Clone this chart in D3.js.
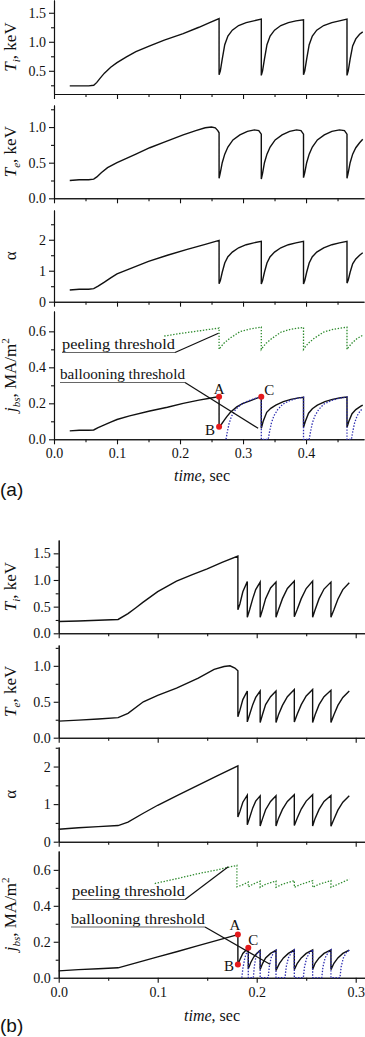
<!DOCTYPE html>
<html>
<head>
<meta charset="utf-8">
<script src="https://cdn.jsdelivr.net/npm/d3@7"></script>
<style>
  body { margin: 0; background: #fff; }
  svg text { font-family: "Liberation Serif", "Times New Roman", Times, "DejaVu Serif", serif; fill: #111; }
  svg text.tag { font-family: "Liberation Sans", Arial, sans-serif; }
</style>
</head>
<body>
<div id="chart"></div>
<script>
// ---------- data, (a) ----------
const tiA = [
  [0.025,0.24],[0.04,0.24],[0.055,0.24],[0.063,0.25],[0.068,0.3],[0.073,0.37],[0.08,0.46],[0.09,0.56],[0.1,0.64],[0.115,0.74],[0.13,0.83],[0.152,0.93],[0.175,1.03],[0.205,1.14],[0.23,1.25],[0.247,1.33],[0.262,1.4],
  [0.262,0.43],[0.264,0.5],[0.267,0.7],[0.271,0.95],[0.276,1.1],[0.283,1.2],[0.293,1.28],[0.305,1.33],[0.317,1.36],[0.329,1.39],
  [0.329,0.42],[0.331,0.5],[0.334,0.7],[0.338,0.95],[0.343,1.1],[0.35,1.2],[0.36,1.28],[0.372,1.33],[0.384,1.36],[0.396,1.38],
  [0.396,0.43],[0.398,0.5],[0.401,0.7],[0.405,0.95],[0.41,1.1],[0.417,1.2],[0.428,1.28],[0.441,1.33],[0.453,1.36],[0.465,1.39],
  [0.465,0.42],[0.467,0.5],[0.47,0.7],[0.474,0.93],[0.479,1.05],[0.485,1.13],[0.49,1.17]
];
const teA = [
  [0.025,0.25],[0.04,0.26],[0.055,0.26],[0.063,0.27],[0.068,0.3],[0.075,0.36],[0.085,0.43],[0.1,0.5],[0.115,0.56],[0.13,0.62],[0.152,0.71],[0.175,0.79],[0.205,0.89],[0.225,0.95],[0.24,0.99],[0.25,1.0],[0.256,0.99],[0.26,0.95],[0.262,0.92],
  [0.262,0.28],[0.264,0.36],[0.267,0.5],[0.271,0.62],[0.276,0.72],[0.284,0.82],[0.295,0.89],[0.307,0.94],[0.318,0.96],[0.325,0.95],[0.329,0.9],
  [0.329,0.27],[0.331,0.35],[0.334,0.5],[0.338,0.62],[0.343,0.72],[0.351,0.82],[0.362,0.89],[0.374,0.94],[0.385,0.96],[0.392,0.95],[0.396,0.9],
  [0.396,0.29],[0.398,0.36],[0.401,0.5],[0.405,0.62],[0.41,0.72],[0.418,0.82],[0.429,0.89],[0.441,0.94],[0.453,0.96],[0.461,0.95],[0.465,0.9],
  [0.465,0.28],[0.467,0.36],[0.47,0.5],[0.474,0.62],[0.479,0.71],[0.485,0.78],[0.49,0.83]
];
const alphaA = [
  [0.025,0.38],[0.04,0.4],[0.055,0.4],[0.063,0.42],[0.07,0.5],[0.08,0.63],[0.09,0.77],[0.1,0.9],[0.12,1.06],[0.15,1.3],[0.18,1.5],[0.21,1.68],[0.24,1.85],[0.262,1.98],
  [0.262,0.58],[0.264,0.68],[0.267,0.95],[0.271,1.25],[0.276,1.45],[0.283,1.6],[0.293,1.74],[0.305,1.84],[0.317,1.9],[0.329,1.95],
  [0.329,0.57],[0.331,0.68],[0.334,0.95],[0.338,1.25],[0.343,1.45],[0.35,1.6],[0.36,1.74],[0.372,1.84],[0.384,1.9],[0.396,1.95],
  [0.396,0.57],[0.398,0.68],[0.401,0.95],[0.405,1.25],[0.41,1.45],[0.417,1.6],[0.428,1.74],[0.441,1.84],[0.453,1.9],[0.465,1.95],
  [0.465,0.6],[0.467,0.7],[0.47,0.95],[0.474,1.22],[0.479,1.38],[0.485,1.5],[0.49,1.58]
];
const jbsA = [
  [0.025,0.047],[0.04,0.05],[0.055,0.05],[0.063,0.052],[0.07,0.065],[0.08,0.08],[0.09,0.095],[0.1,0.11],[0.12,0.13],[0.152,0.157],[0.18,0.178],[0.205,0.2],[0.23,0.218],[0.247,0.228],[0.262,0.237],
  [0.262,0.07],[0.266,0.085],[0.27,0.105],[0.274,0.125],[0.28,0.15],[0.29,0.18],[0.3,0.2],[0.311,0.214],[0.32,0.226],[0.329,0.237],
  [0.329,0.061],[0.332,0.1],[0.3376,0.15],[0.344,0.172],[0.352,0.19],[0.364,0.209],[0.376,0.222],[0.388,0.23],[0.396,0.234],
  [0.396,0.067],[0.399,0.1],[0.404,0.145],[0.41,0.17],[0.418,0.19],[0.43,0.209],[0.442,0.222],[0.455,0.231],[0.465,0.235],
  [0.465,0.067],[0.468,0.1],[0.473,0.142],[0.479,0.165],[0.487,0.184],[0.49,0.19]
];
const balloonA = [
  [0.273,0],[0.275,0.04],[0.278,0.09],[0.282,0.13],[0.288,0.165],[0.296,0.192],[0.306,0.21],[0.317,0.225],[0.329,0.237],[0.329,0],
  [0.34,0],[0.342,0.04],[0.345,0.09],[0.349,0.13],[0.355,0.165],[0.363,0.195],[0.374,0.215],[0.386,0.228],[0.396,0.234],[0.396,0],
  [0.405,0],[0.407,0.04],[0.41,0.09],[0.414,0.13],[0.42,0.165],[0.428,0.195],[0.44,0.215],[0.453,0.229],[0.465,0.235],[0.465,0],
  [0.472,0],[0.474,0.04],[0.477,0.09],[0.481,0.13],[0.486,0.158],[0.49,0.172]
];
const peelA = [
  [0.175,0.574],[0.2,0.588],[0.225,0.6],[0.245,0.61],[0.262,0.618],
  [0.262,0.5],[0.265,0.515],[0.27,0.535],[0.279,0.561],[0.295,0.598],[0.31,0.612],[0.329,0.624],
  [0.329,0.5],[0.332,0.515],[0.337,0.535],[0.346,0.561],[0.36,0.595],[0.376,0.612],[0.396,0.622],
  [0.396,0.5],[0.399,0.515],[0.404,0.535],[0.413,0.561],[0.428,0.596],[0.444,0.612],[0.465,0.623],
  [0.465,0.5],[0.468,0.515],[0.473,0.535],[0.481,0.56],[0.49,0.578]
];
const pointsA = [["A",0.262,0.237],["B",0.262,0.07],["C",0.329,0.237]];

// ---------- data, (b) ----------
const tiB = [
  [0,0.22],[0.02,0.23],[0.04,0.245],[0.06,0.26],[0.07,0.37],[0.078,0.48],[0.085,0.58],[0.1,0.78],[0.119,0.98],[0.135,1.1],[0.15,1.21],[0.165,1.33],[0.181,1.45],
  [0.181,0.44],[0.183,0.55],[0.186,0.78],[0.1905,0.97],
  [0.1905,0.3],[0.193,0.45],[0.196,0.65],[0.199,0.82],[0.2035,0.96],
  [0.2035,0.3],[0.206,0.45],[0.209,0.65],[0.214,0.85],[0.2195,0.96],
  [0.2195,0.3],[0.222,0.44],[0.226,0.65],[0.231,0.84],[0.238,0.98],
  [0.238,0.31],[0.241,0.45],[0.245,0.65],[0.25,0.84],[0.2565,0.98],
  [0.2565,0.3],[0.259,0.44],[0.263,0.65],[0.268,0.83],[0.275,0.96],
  [0.275,0.3],[0.278,0.44],[0.282,0.64],[0.287,0.82],[0.2935,0.95]
];
const teB = [
  [0,0.23],[0.02,0.245],[0.04,0.26],[0.06,0.28],[0.07,0.34],[0.0855,0.5],[0.1,0.59],[0.119,0.69],[0.141,0.83],[0.157,0.95],[0.167,0.99],[0.173,1.0],[0.178,0.97],[0.181,0.93],
  [0.181,0.29],[0.183,0.38],[0.186,0.53],[0.1905,0.65],
  [0.1905,0.22],[0.193,0.33],[0.196,0.46],[0.199,0.56],[0.2035,0.65],
  [0.2035,0.21],[0.206,0.33],[0.209,0.46],[0.214,0.57],[0.2195,0.65],
  [0.2195,0.21],[0.222,0.32],[0.226,0.45],[0.231,0.57],[0.238,0.67],
  [0.238,0.22],[0.241,0.33],[0.245,0.46],[0.25,0.58],[0.2565,0.67],
  [0.2565,0.21],[0.259,0.32],[0.263,0.46],[0.268,0.57],[0.275,0.66],
  [0.275,0.21],[0.278,0.32],[0.282,0.45],[0.287,0.56],[0.2935,0.65]
];
const alphaB = [
  [0,0.33],[0.02,0.37],[0.04,0.4],[0.06,0.43],[0.07,0.52],[0.085,0.75],[0.1,0.97],[0.12,1.23],[0.14,1.49],[0.16,1.75],[0.181,2.02],
  [0.181,0.66],[0.183,0.8],[0.186,1.05],[0.1905,1.24],
  [0.1905,0.45],[0.193,0.65],[0.196,0.9],[0.199,1.08],[0.2035,1.22],
  [0.2035,0.42],[0.206,0.62],[0.209,0.85],[0.214,1.07],[0.2195,1.22],
  [0.2195,0.42],[0.222,0.62],[0.226,0.86],[0.231,1.07],[0.238,1.25],
  [0.238,0.43],[0.241,0.63],[0.245,0.87],[0.25,1.08],[0.2565,1.25],
  [0.2565,0.42],[0.259,0.62],[0.263,0.86],[0.268,1.07],[0.275,1.23],
  [0.275,0.41],[0.278,0.6],[0.282,0.84],[0.287,1.05],[0.2935,1.22]
];
const jbsB = [
  [0,0.038],[0.02,0.045],[0.04,0.05],[0.06,0.055],[0.08,0.085],[0.1,0.116],[0.12,0.146],[0.14,0.177],[0.16,0.208],[0.181,0.24],
  [0.181,0.074],[0.183,0.1],[0.186,0.135],[0.1915,0.167],
  [0.1915,0.05],[0.194,0.085],[0.197,0.115],[0.2,0.135],[0.2035,0.152],
  [0.2035,0.045],[0.206,0.08],[0.209,0.11],[0.214,0.135],[0.2195,0.153],
  [0.2195,0.04],[0.223,0.08],[0.227,0.11],[0.232,0.135],[0.238,0.155],
  [0.238,0.045],[0.241,0.08],[0.245,0.11],[0.25,0.135],[0.2565,0.155],
  [0.2565,0.045],[0.259,0.08],[0.263,0.11],[0.268,0.135],[0.275,0.155],
  [0.275,0.045],[0.278,0.08],[0.282,0.11],[0.287,0.135],[0.2935,0.153]
];
const balloonB = [
  [0.185,0],[0.186,0.05],[0.188,0.11],[0.1915,0.167],[0.1915,0],
  [0.1966,0],[0.1975,0.06],[0.199,0.11],[0.201,0.14],[0.2035,0.152],[0.2035,0],
  [0.2117,0],[0.2127,0.06],[0.2145,0.11],[0.217,0.14],[0.2195,0.153],[0.2195,0],
  [0.2286,0],[0.2298,0.06],[0.232,0.11],[0.235,0.14],[0.238,0.155],[0.238,0],
  [0.2471,0],[0.2483,0.06],[0.2505,0.11],[0.2535,0.14],[0.2565,0.155],[0.2565,0],
  [0.2657,0],[0.2669,0.06],[0.2691,0.11],[0.2721,0.14],[0.275,0.155],[0.275,0],
  [0.2841,0],[0.2853,0.06],[0.2875,0.11],[0.2905,0.14],[0.2935,0.153]
];
const peelB = [
  [0.097,0.524],[0.12,0.552],[0.14,0.578],[0.16,0.6],[0.18,0.625],
  [0.18,0.506],[0.185,0.515],[0.1915,0.532],[0.1915,0.505],[0.196,0.52],[0.2035,0.537],
  [0.2035,0.503],[0.209,0.52],[0.2195,0.538],[0.2195,0.503],[0.226,0.52],[0.238,0.54],
  [0.238,0.503],[0.245,0.52],[0.2565,0.54],[0.2565,0.503],[0.263,0.52],[0.275,0.54],
  [0.275,0.503],[0.282,0.52],[0.2935,0.548]
];
const pointsB = [["A",0.181,0.241],["B",0.181,0.074],["C",0.1915,0.167]];

// ---------- ticks ----------
const xMajorA = [0, 0.1, 0.2, 0.3, 0.4], xMinorA = [0.05, 0.15, 0.25, 0.35, 0.45];
const xMajorB = [0, 0.1, 0.2, 0.3], xMinorB = [0.05, 0.15, 0.25];
const keVMajor = [0, 0.5, 1.0, 1.5], keVMinor = [0.25, 0.75, 1.25];
const alphaMajor = [0, 1, 2], alphaMinor = [0.5, 1.5, 2.5];
const jbsMajor = [0, 0.2, 0.4, 0.6], jbsMinor = [0.1, 0.3, 0.5];

const width = 365, height = 1037;
const svg = d3.select("#chart").append("svg")
    .attr("width", width)
    .attr("height", height);

const labelTi = [["T", "it"], ["i", "sub"], [", keV", ""]];
const labelTe = [["T", "it"], ["e", "sub"], [", keV", ""]];
const labelAlpha = [["\u03b1", ""]];
const labelJ = [["j", "it"], ["bs", "sub"], [", MA/m", ""], ["2", "sup"]];

const line = (x, y) => d3.line().x(d => x(d[0])).y(d => y(d[1]));

function yLabel(cx, cy, parts) {
    const t = svg.append("text")
        .attr("transform", `translate(${cx},${cy}) rotate(-90)`)
        .attr("text-anchor", "middle")
        .attr("font-size", 17);
    let shift = 0;
    parts.forEach(([s, kind]) => {
        const target = kind === "sub" ? 4 : kind === "sup" ? -7 : 0;
        t.append("tspan")
            .attr("dy", target - shift)
            .attr("font-size", kind === "sub" || kind === "sup" ? 11 : 17)
            .attr("font-style", kind === "it" || kind === "sub" ? "italic" : "normal")
            .text(s);
        shift = target;
    });
}

function drawFigure(fig) {
    const x = fig.x;
    fig.panels.forEach((p, i) => {
        const y = d3.scaleLinear().domain(p.domain).range(p.range);
        const x0 = x.range()[0];
        const last = i === fig.panels.length - 1;

        // left axis
        const gy = svg.append("g").attr("transform", `translate(${x0},0)`);
        gy.call(d3.axisLeft(y).tickValues(p.major.filter(v => v >= p.domain[0] && v <= p.domain[1]))
            .tickSize(5).tickSizeOuter(0).tickPadding(3).tickFormat(d3.format(p.fmt)));
        gy.append("g").call(d3.axisLeft(y).tickValues(p.minor.filter(v => v >= p.domain[0] && v <= p.domain[1]))
            .tickSize(3).tickSizeOuter(0).tickFormat(""));

        // bottom axis
        const gx = svg.append("g").attr("transform", `translate(0,${p.range[0]})`);
        gx.call(d3.axisBottom(x).tickValues(fig.xMajor).tickSize(5).tickSizeOuter(0).tickPadding(4)
            .tickFormat(last ? d3.format(".1f") : ""));
        gx.append("g").call(d3.axisBottom(x).tickValues(fig.xMinor).tickSize(3).tickSizeOuter(0).tickFormat(""));

        svg.selectAll("g").attr("font-family", null).attr("font-size", null);
        svg.selectAll(".tick text").attr("font-size", 14).attr("fill", "#111");
        svg.selectAll(".domain, .tick line").attr("stroke", "#111").attr("stroke-width", 1.1);

        yLabel(16, (p.range[0] + p.range[1]) / 2, p.label);

        if (p.green) {
            svg.append("path").datum(p.green)
                .attr("fill", "none").attr("stroke", "#2e8b2e").attr("stroke-width", 1.3)
                .attr("stroke-dasharray", "1.4,1.6").attr("d", line(x, y));
        }
        svg.append("path").datum(p.data)
            .attr("fill", "none").attr("stroke", "#111").attr("stroke-width", 1.4)
            .attr("d", line(x, y));
        if (p.blue) {
            svg.append("path").datum(p.blue)
                .attr("fill", "none").attr("stroke", "#2a2ab0").attr("stroke-width", 1.3)
                .attr("stroke-dasharray", "1.4,1.6").attr("d", line(x, y));
        }
        if (p.notes) {
            p.notes.forEach(n => {
                svg.append("text").attr("x", n.x).attr("y", n.y).attr("font-size", 15)
                    .attr("textLength", n.w).attr("lengthAdjust", "spacingAndGlyphs")
                    .text(n.text);
                svg.append("line").attr("x1", n.x).attr("x2", n.x + n.w)
                    .attr("y1", n.y + 3.5).attr("y2", n.y + 3.5)
                    .attr("stroke", "#666").attr("stroke-width", 1.2);
                svg.append("line").attr("x1", n.x + n.w).attr("y1", n.y + 3.5)
                    .attr("x2", x(n.to[0])).attr("y2", y(n.to[1]))
                    .attr("stroke", "#111").attr("stroke-width", 1.2);
            });
        }
        if (p.points) {
            p.points.forEach((pt, k) => {
                svg.append("circle").attr("cx", x(pt[1])).attr("cy", y(pt[2])).attr("r", 3)
                    .attr("fill", "#e41a1c");
                svg.append("text").attr("x", x(pt[1]) + p.pointLabel[k][0])
                    .attr("y", y(pt[2]) + p.pointLabel[k][1])
                    .attr("text-anchor", "middle").attr("font-size", 15).text(pt[0]);
            });
        }
    });

    const title = svg.append("text").attr("x", fig.titleX).attr("y", fig.titleY)
        .attr("text-anchor", "middle").attr("font-size", 16);
    title.append("tspan").attr("font-style", "italic").text("time");
    title.append("tspan").text(", sec");

    svg.append("text").attr("class", "tag").attr("x", 0).attr("y", fig.tagY)
        .attr("font-size", 19).text(fig.tag);
}

drawFigure({
    x: d3.scaleLinear().domain([0, 0.492]).range([54, 364]),
    xMajor: xMajorA, xMinor: xMinorA,
    titleX: 202, titleY: 481, tag: "(a)", tagY: 496,
    panels: [
        {data: tiA, domain: [0.1, 1.72], range: [94, 0], major: keVMajor, minor: keVMinor, fmt: ".1f", label: labelTi},
        {data: teA, domain: [0, 1.31], range: [198.3, 105], major: keVMajor, minor: keVMinor, fmt: ".1f", label: labelTe},
        {data: alphaA, domain: [0, 2.96], range: [301.7, 210], major: alphaMajor, minor: alphaMinor, fmt: "d", label: labelAlpha},
        {data: jbsA, domain: [0, 0.713], range: [439.3, 311], major: jbsMajor, minor: jbsMinor, fmt: ".1f", label: labelJ,
         green: peelA, blue: balloonA, points: pointsA, pointLabel: [[0, -3], [-9, 8], [8, -2]],
         notes: [
            {text: "peeling threshold", x: 62, y: 349, w: 113, to: [0.261, 0.589]},
            {text: "ballooning threshold", x: 60, y: 379, w: 125, to: [0.324, 0.061]}
         ]}
    ]
});

drawFigure({
    x: d3.scaleLinear().domain([0, 0.31]).range([58.7, 365.6]),
    xMajor: xMajorB, xMinor: xMinorB,
    titleX: 212, titleY: 1021, tag: "(b)", tagY: 1032,
    panels: [
        {data: tiB, domain: [0, 1.75], range: [633.3, 540], major: keVMajor, minor: keVMinor, fmt: ".1f", label: labelTi},
        {data: teB, domain: [0, 1.29], range: [737.7, 645], major: keVMajor, minor: keVMinor, fmt: ".1f", label: labelTe},
        {data: alphaB, domain: [0, 2.52], range: [841.7, 747], major: alphaMajor, minor: alphaMinor, fmt: "d", label: labelAlpha},
        {data: jbsB, domain: [0, 0.705], range: [977.7, 851], major: jbsMajor, minor: jbsMinor, fmt: ".1f", label: labelJ,
         green: peelB, blue: balloonB, points: pointsB, pointLabel: [[-3, -4], [-9, 7], [5, -3]],
         notes: [
            {text: "peeling threshold", x: 72, y: 896, w: 113, to: [0.1713, 0.617]},
            {text: "ballooning threshold", x: 71, y: 923.5, w: 134, to: [0.2134, 0.075]}
         ]}
    ]
});
</script>
</body>
</html>
